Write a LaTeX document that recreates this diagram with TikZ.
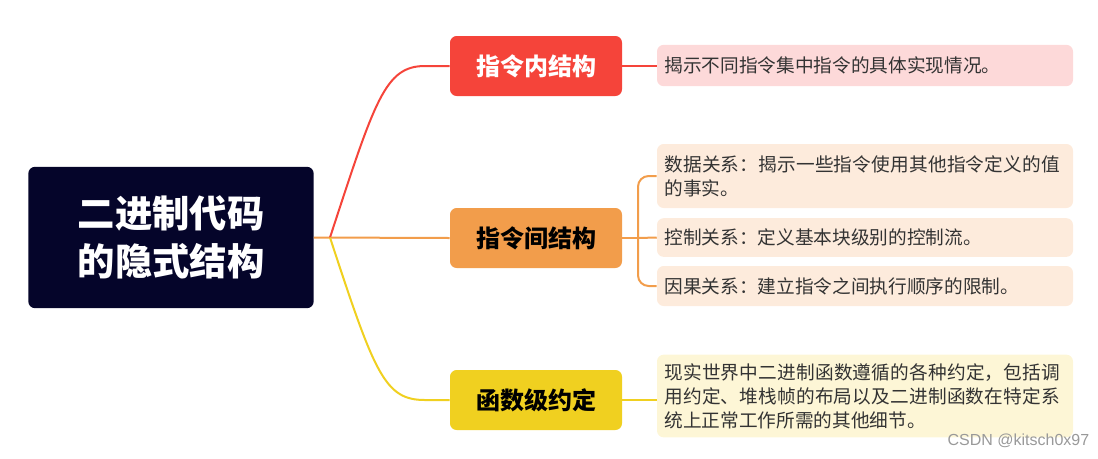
\documentclass[tikz,border=0pt]{standalone}
\usepackage{fontspec}
\setmainfont{Noto Sans CJK SC}
\newfontfamily\wm{Liberation Sans}
\XeTeXlinebreaklocale "zh"
\XeTeXlinebreakskip=0pt plus 1pt
\definecolor{rootc}{HTML}{05052A}
\definecolor{redc}{HTML}{F5443A}
\definecolor{orc}{HTML}{F29D4B}
\definecolor{yec}{HTML}{F0D020}
\definecolor{pinkl}{HTML}{FDD9D9}
\definecolor{orl}{HTML}{FDEBDC}
\definecolor{yel}{HTML}{FDF6D6}
\definecolor{txt}{HTML}{333333}
\begin{document}
\begin{tikzpicture}[x=0.75pt,y=-0.75pt,
  branch/.style={rounded corners=5pt,minimum width=129pt,minimum height=45pt,font=\bfseries\fontsize{18}{20}\selectfont,inner sep=0pt},
  leaf/.style={rounded corners=5pt,minimum width=312pt,text width=301pt,align=left,font=\fontsize{14}{18}\selectfont,text=txt,inner sep=0pt},
  conn/.style={line width=1.5pt}]
\useasboundingbox (0,0) rectangle (1098,458);
\node[fill=rootc,rounded corners=5pt,minimum width=214pt,minimum height=106pt,text=white,align=center,font=\bfseries\fontsize{28}{36}\selectfont] (root) at (171,237.5) {二进制代码\\的隐式结构};
\node[branch,fill=redc,text=white] (b1) at (536,66) {指令内结构};
\node[branch,fill=orc,text=black] (b2) at (536,238) {指令间结构};
\node[branch,fill=yec,text=black] (b3) at (536,400) {函数级约定};
\node[leaf,fill=pinkl,minimum height=31pt] (l1) at (865,65.5) {揭示不同指令集中指令的具体实现情况。};
\node[leaf,fill=orl,minimum height=48pt] (l2a) at (865,176) {数据关系：揭示一些指令使用其他指令定义的值的事实。};
\node[leaf,fill=orl,minimum height=29pt] (l2b) at (865,237.5) {控制关系：定义基本块级别的控制流。};
\node[leaf,fill=orl,minimum height=30pt] (l2c) at (865,286) {因果关系：建立指令之间执行顺序的限制。};
\node[leaf,fill=yel,minimum height=62pt] (l3) at (865,396) {现实世界中二进制函数遵循的各种约定，包括调用约定、堆栈帧的布局以及二进制函数在特定系统上正常工作所需的其他细节。};
\coordinate (j) at (330,237.5);
\draw[conn,orc] (root.east) -- (b2.west);
\draw[conn,redc] (j) .. controls (375,100) and (385,66) .. (425,66) -- (b1.west);
\draw[conn,yec] (j) .. controls (375,375) and (385,400) .. (425,400) -- (b3.west);
\draw[conn,redc] (b1.east) -- (b1.east-|l1.west);
\draw[conn,yec] (b3.east) -- (b3.east-|l3.west);
\coordinate (k) at (638,238);
\draw[conn,orc] (b2.east) -- (k);
\draw[conn,orc,rounded corners=8pt] (l2a.west) -- (k|-l2a.west) -- (k|-l2c.west) -- (l2c.west);
\draw[conn,orc] (k) -- (l2b.west);
\node[anchor=east,text=black!40,font=\wm\fontsize{12}{14}\selectfont] (w) at (1094,441) {CSDN @kitsch0x97};
\end{tikzpicture}
\end{document}
